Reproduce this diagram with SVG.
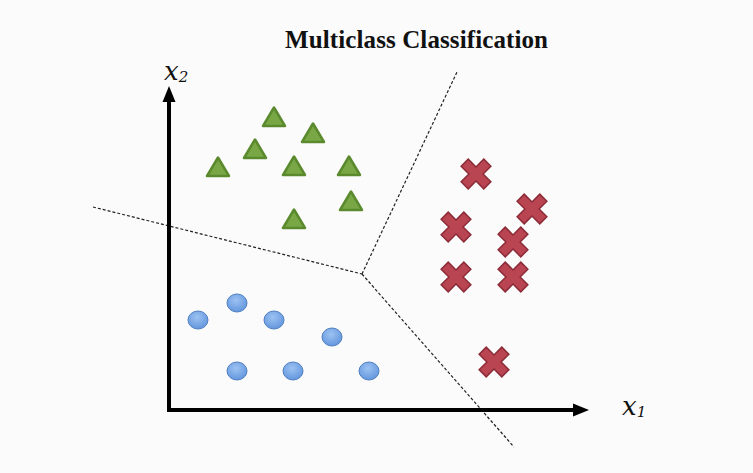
<svg xmlns="http://www.w3.org/2000/svg" xmlns:xlink="http://www.w3.org/1999/xlink" width="753" height="473" viewBox="0 0 753 473">
<style>
.title{font-family:"Liberation Serif","Times New Roman",serif;font-weight:bold;font-size:25px;fill:#111}
.lab{font-family:"DejaVu Serif","Liberation Serif",serif;font-style:italic;fill:#111}
.axis{stroke:#000;stroke-width:4;fill:none}
.dash{stroke:#222;stroke-width:1.2;stroke-dasharray:3,2;fill:none}
.tri{fill:#7aa746;stroke:#5b8a2e;stroke-width:2.5;stroke-linejoin:round}
.crs{fill:#b94452;stroke:#8c2b38;stroke-width:1.5;stroke-linejoin:miter}
.dot{fill:url(#bg);stroke:#4f7fc0;stroke-width:1}
</style>
<defs>
<radialGradient id="bg" cx="0.45" cy="0.35" r="0.7">
<stop offset="0" stop-color="#9cc2f2"/>
<stop offset="1" stop-color="#5f93dc"/>
</radialGradient>
<polygon id="t" points="0,-9.5 11,9 -11,9"/>
<path id="x" d="M-5,-16 H5 V-5 H16 V5 H5 V16 H-5 V5 H-16 V-5 H-5 Z" transform="rotate(45)"/>
<ellipse id="c" rx="10" ry="9"/>
</defs>
<rect width="753" height="473" fill="#fbfbfb"/>
<text class="title" x="285" y="48" textLength="263">Multiclass Classification</text>
<g id="connectors">
<line class="dash" x1="93" y1="207" x2="362" y2="274"/>
<line class="dash" x1="362" y1="274" x2="457" y2="72"/>
<line class="dash" x1="362" y1="274" x2="514" y2="447"/>
<line class="axis" x1="169" y1="411" x2="169" y2="100"/>
<polygon points="169,86 162.5,102 175.5,102" fill="#000"/>
<line class="axis" x1="167" y1="410" x2="575" y2="410"/>
<polygon points="589,410 573,403.5 573,416.5" fill="#000"/>
</g>
<g id="label-x2"><text class="lab" x="164" y="80" font-size="26">x<tspan font-size="15" dy="2">2</tspan></text></g>
<g id="label-x1"><text class="lab" x="622" y="415" font-size="26">x<tspan font-size="15" dy="2">1</tspan></text></g>
<g id="triangles">
<g id="tri1"><use xlink:href="#t" href="#t" class="tri" x="274" y="117"/></g>
<g id="tri2"><use xlink:href="#t" href="#t" class="tri" x="313" y="133"/></g>
<g id="tri3"><use xlink:href="#t" href="#t" class="tri" x="255" y="149"/></g>
<g id="tri4"><use xlink:href="#t" href="#t" class="tri" x="218" y="167"/></g>
<g id="tri5"><use xlink:href="#t" href="#t" class="tri" x="294" y="166"/></g>
<g id="tri6"><use xlink:href="#t" href="#t" class="tri" x="349" y="166"/></g>
<g id="tri7"><use xlink:href="#t" href="#t" class="tri" x="351" y="201"/></g>
<g id="tri8"><use xlink:href="#t" href="#t" class="tri" x="294" y="219"/></g>
</g>
<g id="crosses">
<g id="crs1"><use xlink:href="#x" href="#x" class="crs" x="476" y="174"/></g>
<g id="crs2"><use xlink:href="#x" href="#x" class="crs" x="532" y="209"/></g>
<g id="crs3"><use xlink:href="#x" href="#x" class="crs" x="456" y="227"/></g>
<g id="crs4"><use xlink:href="#x" href="#x" class="crs" x="513" y="242"/></g>
<g id="crs5"><use xlink:href="#x" href="#x" class="crs" x="456" y="277"/></g>
<g id="crs6"><use xlink:href="#x" href="#x" class="crs" x="513" y="277"/></g>
<g id="crs7"><use xlink:href="#x" href="#x" class="crs" x="494" y="362"/></g>
</g>
<g id="circles">
<g id="dot1"><use xlink:href="#c" href="#c" class="dot" x="198" y="320"/></g>
<g id="dot2"><use xlink:href="#c" href="#c" class="dot" x="237" y="303"/></g>
<g id="dot3"><use xlink:href="#c" href="#c" class="dot" x="274" y="320"/></g>
<g id="dot4"><use xlink:href="#c" href="#c" class="dot" x="332" y="337"/></g>
<g id="dot5"><use xlink:href="#c" href="#c" class="dot" x="237" y="371"/></g>
<g id="dot6"><use xlink:href="#c" href="#c" class="dot" x="293" y="371"/></g>
<g id="dot7"><use xlink:href="#c" href="#c" class="dot" x="369" y="371"/></g>
</g>
</svg>
